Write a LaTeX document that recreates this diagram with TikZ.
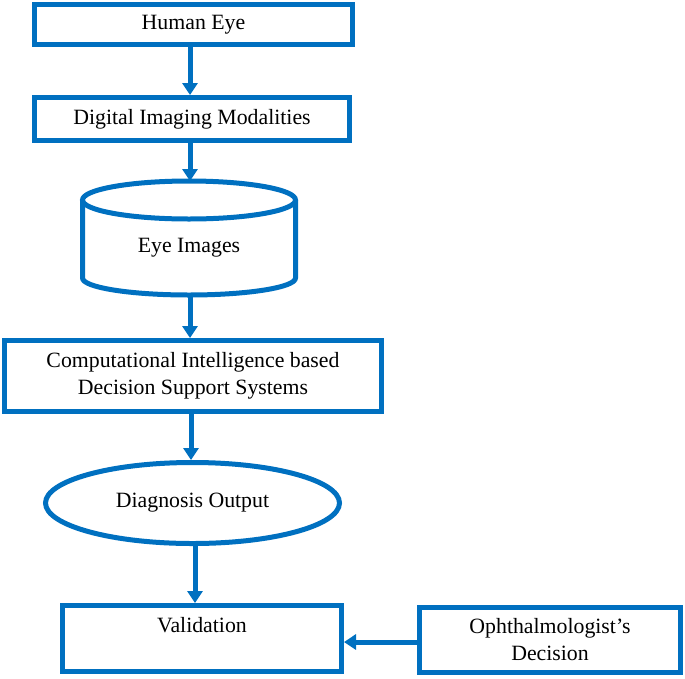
\documentclass[tikz,border=0pt]{standalone}
\usepackage{fontspec}
\setmainfont{Liberation Serif}
\usetikzlibrary{arrows.meta,shapes.geometric}
\definecolor{bl}{HTML}{0070C0}
\begin{document}
\begin{tikzpicture}[x=1pt,y=-1pt,
  box/.style={draw=bl,line width=5pt,inner sep=0pt,align=center,font=\fontsize{21.8}{27}\selectfont},
  arr/.style={draw=bl,line width=5pt,-{Triangle[width=15pt,length=12pt]}},
  txt/.style={inner sep=0pt,align=center,font=\fontsize{21.8}{27}\selectfont}]
\useasboundingbox (0,0) rectangle (685,678);
\node[box,minimum width=318pt,minimum height=40pt] (he) at (193.5,24.5) {Human Eye};
\node[box,minimum width=315pt,minimum height=43pt] (dim) at (192,119) {Digital Imaging Modalities};
% cylinder
\draw[bl,line width=5pt] (189,200) ellipse [x radius=106.5,y radius=19];
\draw[bl,line width=5pt] (82.5,200) -- (82.5,278) arc[start angle=180,end angle=0,x radius=106.5,y radius=17] -- (295.5,200);
\node[txt] (eye) at (189,248) {Eye Images};
\coordinate (cyltop) at (189,181);
\coordinate (cylbot) at (189,295);
\node[box,minimum width=377pt,minimum height=71pt] (ci) at (193,376) {Computational Intelligence based\\Decision Support Systems};
\node[box,ellipse,minimum width=294pt,minimum height=81pt] (dx) at (192.5,503) {Diagnosis Output};
\node[box,minimum width=279pt,minimum height=66pt] (val) at (202,638.5) {Validation\\\mbox{}};
\node[box,minimum width=261pt,minimum height=65pt] (oph) at (550,640) {Ophthalmologist’s\\Decision};
\draw[arr] (he.south -| 190,0) -- (dim.north -| 190,0);
\draw[arr] (dim.south -| 190,0) -- (cyltop -| 190,0);
\draw[arr] (cylbot -| 190,0) -- (ci.north -| 190,0);
\draw[arr] (ci.south -| 191,0) -- (dx.north -| 191,0);
\draw[arr] (dx.south -| 195,0) -- (val.north -| 195,0);
\draw[arr] (oph.west |- 0,642) -- (val.east |- 0,642);
\end{tikzpicture}
\end{document}
